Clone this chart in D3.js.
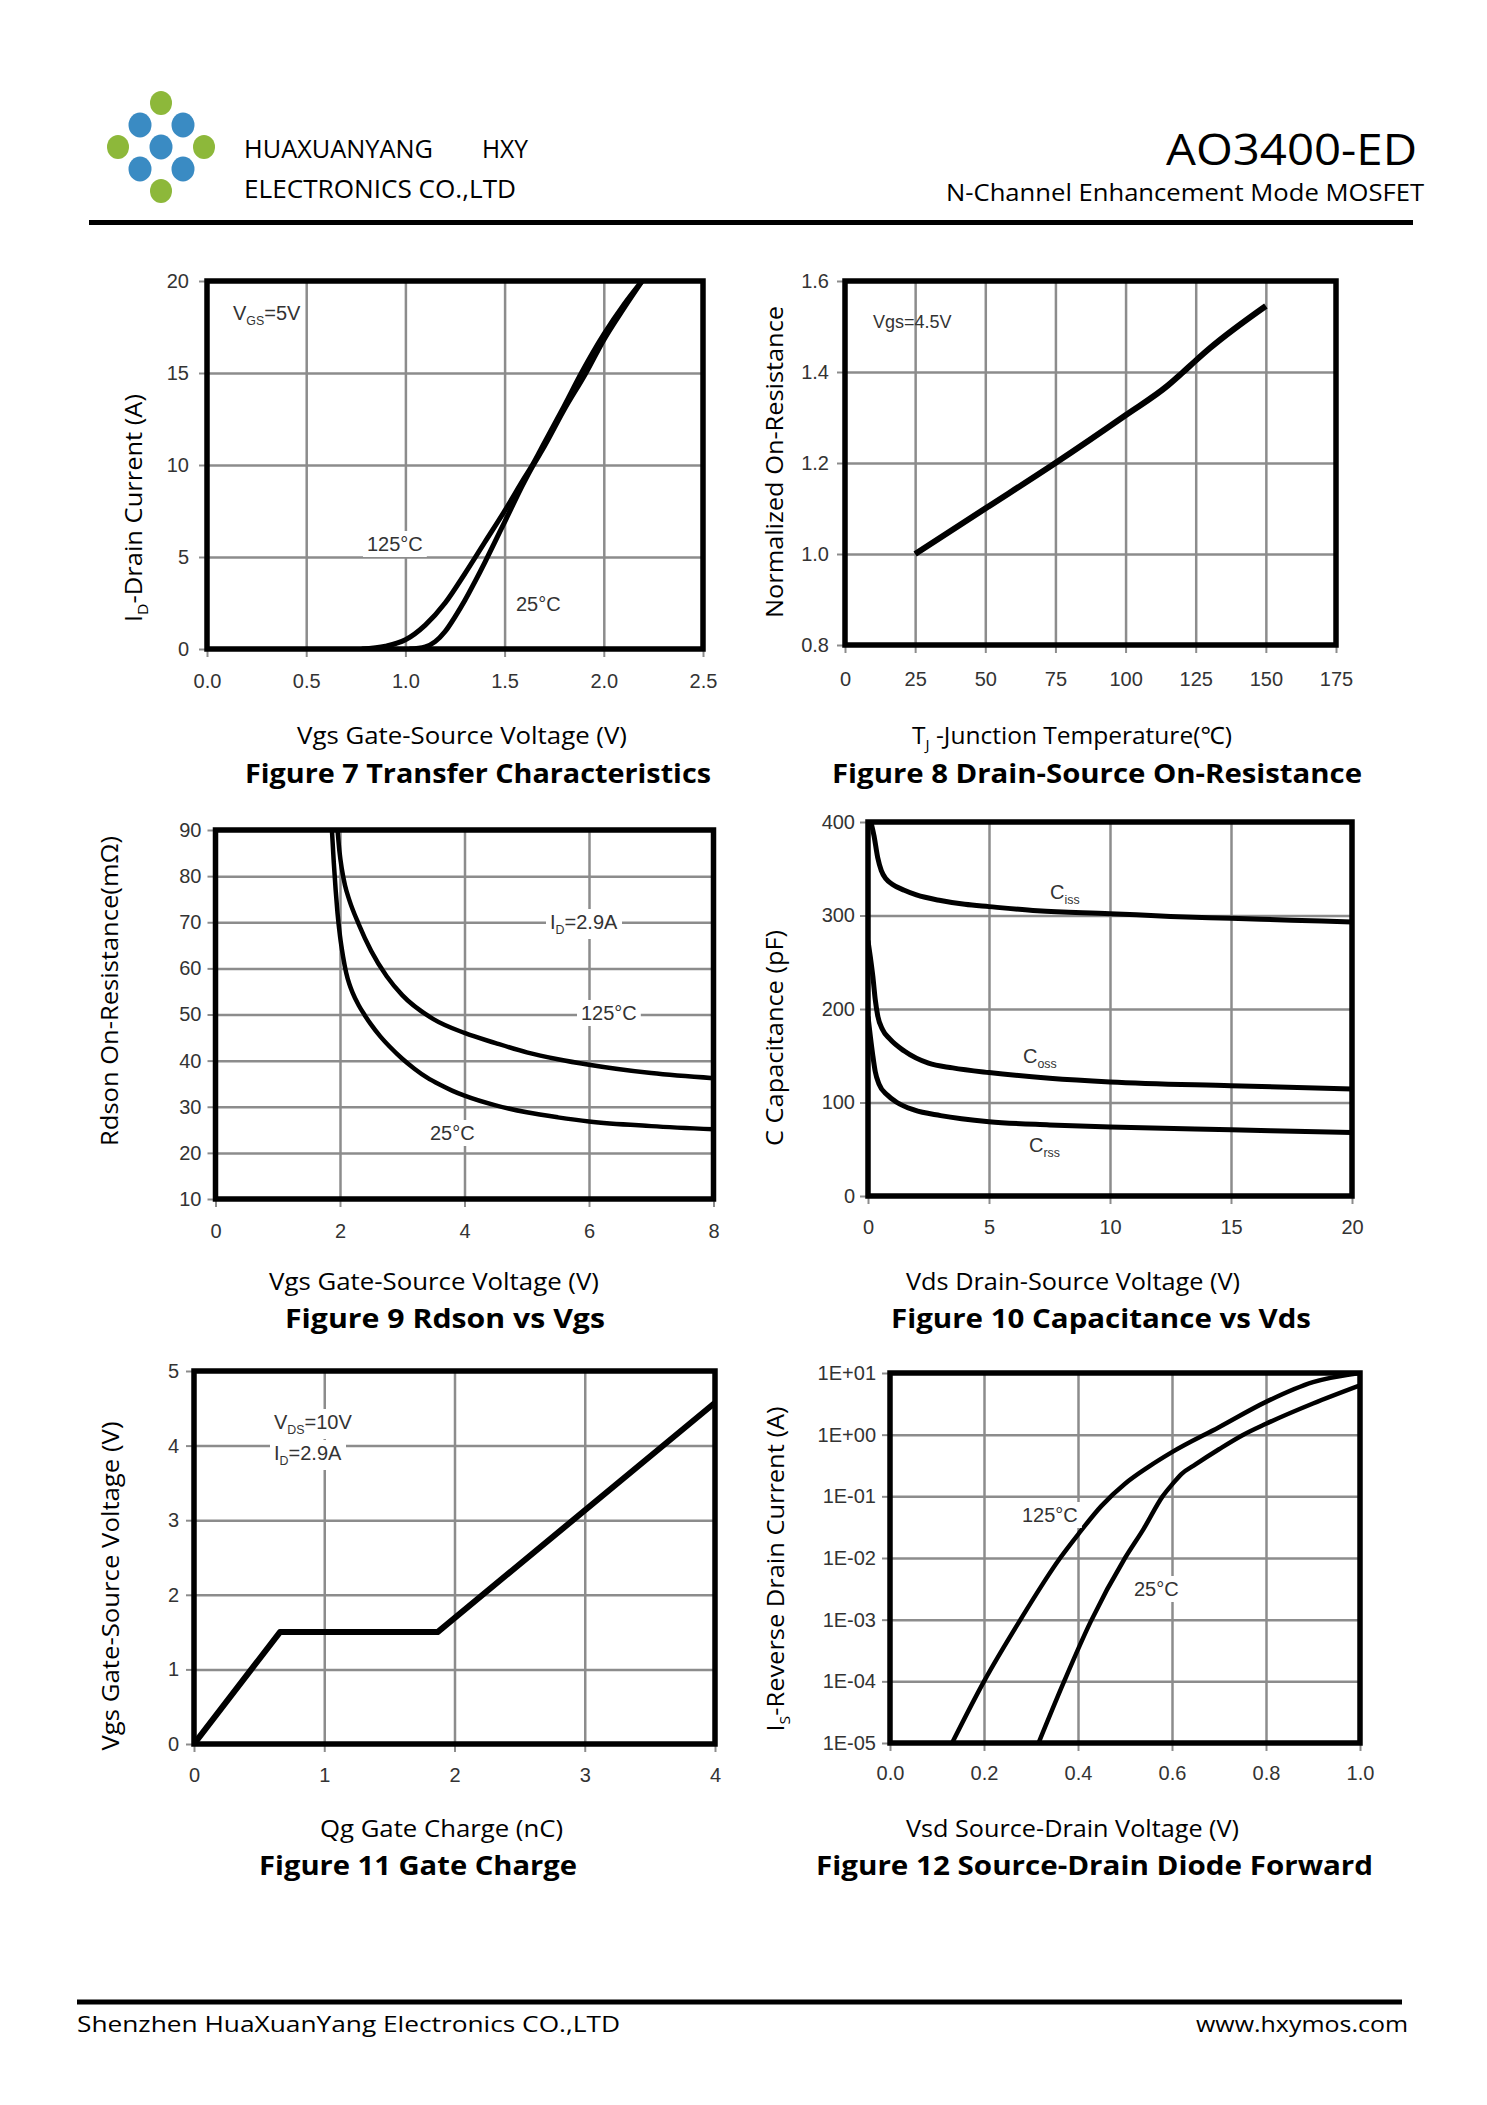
<!DOCTYPE html>
<html>
<head>
<meta charset="utf-8">
<script src="https://cdn.jsdelivr.net/npm/d3@7/dist/d3.min.js"></script>
<style>
body{margin:0;background:#fff}
.tick line{stroke:#8c8c8c;stroke-width:2.5}
.tick text{font-family:"Liberation Sans",Arial,sans-serif;font-size:20px;fill:#333}
.small .tick line{stroke:#8c8c8c;stroke-width:2}
</style>
</head>
<body>
<svg id="page" width="1487" height="2105"></svg>
<script>
// ---- data ----
// Figure 7: Vgs (V) vs Id (A)
var transfer125 = [[0.78,0],[0.9,0.15],[1.0,0.5],[1.1,1.3],[1.2,2.5],[1.3,4.1],[1.4,5.8],[1.5,7.5],[1.6,9.3],[1.64,10.0],[1.7,11.2],[1.8,13.2],[1.887,15],[2.0,17.1],[2.1,18.7],[2.2,20.1]];
var transfer25  = [[1.02,0],[1.1,0.12],[1.15,0.4],[1.2,0.95],[1.25,1.75],[1.3,2.65],[1.35,3.65],[1.4,4.7],[1.45,5.8],[1.5,6.9],[1.6,9.1],[1.64,9.9],[1.7,11.0],[1.8,13.0],[1.91,15],[2.0,16.8],[2.1,18.5],[2.2,20.1]];
// Figure 8: Tj (C) vs normalized Rdson
var onRes = [[25,1.0],[50,1.1],[75,1.2],[100,1.305],[115,1.37],[120,1.397],[125,1.425],[130,1.452],[150,1.545]];
// Figure 9: Vgs (V) vs Rdson (mOhm)
var rdson125 = [[1.96,90],[1.99,85.5],[2.03,81.5],[2.08,78],[2.15,74.8],[2.3,69.6],[2.5,63.8],[2.75,58.3],[3.0,54.2],[3.5,49],[4.0,46],[4.5,43.8],[5.0,41.8],[5.5,40.3],[6.0,39.1],[7.0,37.3],[8.0,36.2]];
var rdson25  = [[1.87,90],[1.9,83],[1.93,77],[1.96,72],[2.0,67],[2.05,62.5],[2.1,59],[2.15,56.6],[2.2,54.8],[2.3,52],[2.4,49.8],[2.5,47.8],[2.65,45.2],[2.8,43],[3.0,40.4],[3.2,38.2],[3.4,36.3],[3.6,34.8],[3.8,33.5],[4.0,32.4],[4.5,30.3],[5.0,28.8],[5.5,27.7],[6.0,26.8],[7.0,25.8],[8.0,25.1]];
// Figure 10: Vds (V) vs capacitance (pF)
var ciss = [[0.12,400],[0.25,385],[0.4,362],[0.55,348],[0.75,339],[1.0,333.5],[1.5,327],[2.0,322],[3.0,316],[4.0,312],[5.0,309.5],[7.0,305],[10,302],[12.5,299],[15,297],[17.5,295],[20,293]];
var coss = [[0,273],[0.1,255],[0.2,235],[0.3,210],[0.4,193],[0.6,178],[0.9,168],[1.5,155],[2.5,142],[3.5,137],[5,132],[7.5,126],[10,122],[15,118],[20,114.5]];
var crss = [[0,192],[0.1,170],[0.2,150],[0.3,133],[0.45,120],[0.8,108],[1.2,100],[1.9,92],[3.0,86],[5,79.5],[7.5,76],[10,73.7],[15,70.8],[20,68]];
// Figure 11: Qg (nC) vs Vgs (V)
var gateCharge = [[0,0],[0.66,1.5],[1.87,1.5],[4.0,4.575]];
// Figure 12: Vsd (V) vs Is (A)
var diode125 = [[0.132,1e-5],[0.2,1e-4],[0.275,9.3e-4],[0.362,1e-2],[0.40,2.4e-2],[0.45,7e-2],[0.5,0.16],[0.55,0.3],[0.6,0.52],[0.7,1.32],[0.8,3.4],[0.9,7.1],[1.0,10]];
var diode25  = [[0.316,1e-5],[0.37,9.8e-5],[0.427,9.3e-4],[0.5,1e-2],[0.54,3e-2],[0.58,0.1],[0.6,0.155],[0.62,0.23],[0.65,0.33],[0.7,0.58],[0.75,0.98],[0.8,1.5],[0.9,3.2],[1.0,6.3]];

// ---- tick values and labels ----
var x7 = [0,0.5,1,1.5,2,2.5], x7Labels = ["0.0","0.5","1.0","1.5","2.0","2.5"];
var y7 = [0,5,10,15,20];
var x8 = [0,25,50,75,100,125,150,175];
var y8 = [0.8,1.0,1.2,1.4,1.6], y8Labels = ["0.8","1.0","1.2","1.4","1.6"];
var x9 = [0,2,4,6,8];
var y9 = [10,20,30,40,50,60,70,80,90];
var x10 = [0,5,10,15,20];
var y10 = [0,100,200,300,400];
var x11 = [0,1,2,3,4];
var y11 = [0,1,2,3,4,5];
var x12 = [0,0.2,0.4,0.6,0.8,1.0], x12Labels = ["0.0","0.2","0.4","0.6","0.8","1.0"];
var y12 = [1e-5,1e-4,1e-3,1e-2,1e-1,1,10], y12Labels = ["1E-05","1E-04","1E-03","1E-02","1E-01","1E+00","1E+01"];

var svg = d3.select("#page");
var TITLE_FONT = "'Open Sans','Noto Sans',sans-serif";
var LABEL_FONT = "'Liberation Sans',Arial,sans-serif";

// text with optional subscript parts: [["I"],["D",1],["-Drain"]]
function richText(t, parts, size){
    var down = false;
    parts.forEach(function(p){
        var s = t.append("tspan").text(p[0]);
        if (p[1]) { s.attr("font-size", size*0.62).attr("dy", size*0.25); down = true; }
        else if (down) { s.attr("dy", -size*0.25); down = false; }
    });
    return t;
}

function drawChart(c){
    var g = svg.append("g");
    var w = c.r - c.l, h = c.b - c.t;
    var x = d3.scaleLinear().domain(c.xd).range([c.l, c.r]);
    var y = (c.log ? d3.scaleLog() : d3.scaleLinear()).domain(c.yd).range([c.b, c.t]);

    // grid + labels
    g.append("g").attr("transform","translate(0,"+c.b+")")
        .call(d3.axisBottom(x).tickValues(c.xt).tickSize(-h).tickPadding(c.px)
            .tickFormat(function(d,i){ return c.xl ? c.xl[i] : d; }))
        .call(function(a){ a.select(".domain").remove(); });
    g.append("g").attr("transform","translate("+c.l+",0)")
        .call(d3.axisLeft(y).tickValues(c.yt).tickSize(-w).tickPadding(c.py)
            .tickFormat(function(d,i){ return c.yl ? c.yl[i] : d; }))
        .call(function(a){ a.select(".domain").remove(); });
    // short outer tick marks
    g.append("g").attr("class","small").attr("transform","translate(0,"+c.b+")")
        .call(d3.axisBottom(x).tickValues(c.xt).tickSize(8).tickFormat(""))
        .call(function(a){ a.select(".domain").remove(); });
    g.append("g").attr("class","small").attr("transform","translate("+c.l+",0)")
        .call(d3.axisLeft(y).tickValues(c.yt).tickSize(8).tickFormat(""))
        .call(function(a){ a.select(".domain").remove(); });

    // curves
    var clipId = "clip" + c.id;
    svg.append("clipPath").attr("id", clipId).append("rect")
        .attr("x", c.l).attr("y", c.t).attr("width", w).attr("height", h);
    var line = d3.line().x(function(d){ return x(d[0]); }).y(function(d){ return y(d[1]); })
        .curve(c.linear ? d3.curveLinear : d3.curveMonotoneX);
    c.series.forEach(function(s){
        g.append("path").datum(s).attr("clip-path","url(#"+clipId+")")
            .attr("d", line).attr("fill","none").attr("stroke","#000")
            .attr("stroke-width", c.lw || 5).attr("stroke-linejoin","round");
    });

    // annotations
    (c.notes || []).forEach(function(n){
        var ng = g.append("g");
        var t = ng.append("text").attr("x", n.x).attr("y", n.y)
            .attr("font-family", LABEL_FONT).attr("font-size", n.size || 20).attr("fill","#333");
        richText(t, n.parts, n.size || 20);
        if (n.bg) {
            var bb = t.node().getBBox();
            ng.insert("rect","text").attr("x", bb.x-4).attr("y", bb.y-2)
                .attr("width", bb.width+8).attr("height", bb.height+4).attr("fill","#fff");
        }
    });

    // frame
    g.append("rect").attr("x", c.l).attr("y", c.t).attr("width", w).attr("height", h)
        .attr("fill","none").attr("stroke","#000").attr("stroke-width",5.5);

    // x axis title
    var xt = g.append("text").attr("x", c.xTitle.x).attr("y", c.xTitle.y)
        .attr("font-family", TITLE_FONT).attr("font-size", 24).attr("fill","#000")
        .attr("textLength", c.xTitle.w).attr("lengthAdjust","spacingAndGlyphs");
    richText(xt, c.xTitle.parts, 24);
    // y axis title
    var yt = g.append("text")
        .attr("transform","translate("+(c.yTitle.cx+8)+","+(c.yTitle.cy + c.yTitle.len/2)+") rotate(-90)")
        .attr("font-family", TITLE_FONT).attr("font-size", 24).attr("fill","#000")
        .attr("textLength", c.yTitle.len).attr("lengthAdjust","spacingAndGlyphs");
    richText(yt, c.yTitle.parts, 24);
    // figure caption
    g.append("text").attr("x", c.cap.x).attr("y", c.cap.y)
        .attr("font-family", TITLE_FONT).attr("font-size", 27).attr("font-weight","bold").attr("fill","#000")
        .attr("textLength", c.cap.w).attr("lengthAdjust","spacingAndGlyphs")
        .text(c.cap.text);
}

// ---- header ----
var logoBlue = "#3a8bc3", logoGreen = "#8db83a";
var logoDots = [[161,103,"g"],[140,125,"b"],[183,125,"b"],[118,147,"g"],[161,147,"b"],[204,147,"g"],[140,169,"b"],[183,169,"b"],[161,191,"g"]];
svg.append("g").selectAll("ellipse").data(logoDots).enter().append("ellipse")
    .attr("cx", function(d){ return d[0]; }).attr("cy", function(d){ return d[1]; })
    .attr("rx", function(d){ return d[2]==="g" ? 11 : 11.5; })
    .attr("ry", function(d){ return d[2]==="g" ? 12 : 12.5; })
    .attr("fill", function(d){ return d[2]==="g" ? logoGreen : logoBlue; });

function plainText(x, y, size, w, str, weight){
    svg.append("text").attr("x", x).attr("y", y).attr("font-family", TITLE_FONT)
        .attr("font-size", size).attr("font-weight", weight || "normal").attr("fill","#000")
        .attr("textLength", w).attr("lengthAdjust","spacingAndGlyphs").text(str);
}
plainText(244, 158, 25, 189, "HUAXUANYANG");
plainText(482, 158, 25, 46, "HXY");
plainText(244, 198, 25, 272, "ELECTRONICS CO.,LTD");
plainText(1166, 165, 43, 251, "AO3400-ED");
plainText(946, 201, 23, 478, "N-Channel Enhancement Mode MOSFET");
svg.append("line").attr("x1",89).attr("x2",1413).attr("y1",222.5).attr("y2",222.5)
    .attr("stroke","#000").attr("stroke-width",5);

// ---- charts ----
drawChart({id:7, l:207, r:703, t:281, b:649, xd:[0,2.5], yd:[0,20], xt:x7, xl:x7Labels, yt:y7, px:25, py:18,
    series:[transfer125, transfer25],
    notes:[{x:233, y:320, parts:[["V"],["GS",1],["=5V"]]},
           {x:367, y:551, parts:[["125°C"]], bg:true},
           {x:516, y:611, parts:[["25°C"]], bg:true}],
    xTitle:{x:297, y:744, w:330, parts:[["Vgs Gate-Source Voltage (V)"]]},
    yTitle:{cx:134, cy:508, len:228, parts:[["I"],["D",1],["-Drain Current (A)"]]},
    cap:{x:245, y:783, w:466, text:"Figure 7 Transfer Characteristics"}});

drawChart({id:8, l:845, r:1336, t:281, b:645, xd:[0,175], yd:[0.8,1.6], xt:x8, yt:y8, yl:y8Labels, px:27, py:16,
    series:[onRes], lw:6,
    notes:[{x:873, y:328, size:18, parts:[["Vgs=4.5V"]]}],
    xTitle:{x:912, y:744, w:320, parts:[["T"],["J",1],[" -Junction Temperature(℃)"]]},
    yTitle:{cx:775, cy:462, len:312, parts:[["Normalized On-Resistance"]]},
    cap:{x:832, y:783, w:530, text:"Figure 8 Drain-Source On-Resistance"}});

drawChart({id:9, l:215.5, r:713.5, t:830, b:1199, xd:[0,8], yd:[10,90], xt:x9, yt:y9, px:25, py:14,
    series:[rdson125, rdson25], lw:4.5,
    notes:[{x:550, y:929, parts:[["I"],["D",1],["=2.9A"]], bg:true},
           {x:581, y:1020, parts:[["125°C"]], bg:true},
           {x:430, y:1140, parts:[["25°C"]], bg:true}],
    xTitle:{x:269, y:1290, w:330, parts:[["Vgs Gate-Source Voltage (V)"]]},
    yTitle:{cx:110, cy:991, len:310, parts:[["Rdson On-Resistance(mΩ)"]]},
    cap:{x:285, y:1328, w:320, text:"Figure 9 Rdson vs Vgs"}});

drawChart({id:10, l:868, r:1352, t:822, b:1196, xd:[0,20], yd:[0,400], xt:x10, yt:y10, px:24, py:13,
    series:[ciss, coss, crss],
    notes:[{x:1050, y:899, parts:[["C"],["iss",1]]},
           {x:1023, y:1063, parts:[["C"],["oss",1]]},
           {x:1029, y:1152, parts:[["C"],["rss",1]]}],
    xTitle:{x:906, y:1290, w:334, parts:[["Vds Drain-Source Voltage (V)"]]},
    yTitle:{cx:775, cy:1038, len:216, parts:[["C Capacitance (pF)"]]},
    cap:{x:891, y:1328, w:420, text:"Figure 10 Capacitance vs Vds"}});

drawChart({id:11, l:194, r:715, t:1371, b:1744, xd:[0,4], yd:[0,5], xt:x11, yt:y11, px:24, py:15,
    series:[gateCharge], linear:true, lw:6,
    notes:[{x:274, y:1429, parts:[["V"],["DS",1],["=10V"]], bg:true},
           {x:274, y:1460, parts:[["I"],["D",1],["=2.9A"]], bg:true}],
    xTitle:{x:320, y:1837, w:243, parts:[["Qg Gate Charge (nC)"]]},
    yTitle:{cx:111, cy:1586, len:329, parts:[["Vgs Gate-Source Voltage (V)"]]},
    cap:{x:259, y:1875, w:318, text:"Figure 11 Gate Charge"}});

drawChart({id:12, l:890, r:1360, t:1373, b:1743, xd:[0,1], yd:[1e-5,10], log:true, xt:x12, xl:x12Labels, yt:y12, yl:y12Labels, px:23, py:14,
    series:[diode125, diode25], lw:4.5,
    notes:[{x:1022, y:1522, parts:[["125°C"]], bg:true},
           {x:1134, y:1596, parts:[["25°C"]], bg:true}],
    xTitle:{x:906, y:1837, w:333, parts:[["Vsd Source-Drain Voltage (V)"]]},
    yTitle:{cx:776, cy:1569, len:325, parts:[["I"],["S",1],["-Reverse Drain Current (A)"]]},
    cap:{x:816, y:1875, w:557, text:"Figure 12 Source-Drain Diode Forward"}});

// ---- footer ----
svg.append("line").attr("x1",77).attr("x2",1402).attr("y1",2002).attr("y2",2002)
    .attr("stroke","#000").attr("stroke-width",5);
plainText(77, 2032, 22, 543, "Shenzhen HuaXuanYang Electronics CO.,LTD");
plainText(1196, 2032, 22, 212, "www.hxymos.com");
</script>
</body>
</html>
